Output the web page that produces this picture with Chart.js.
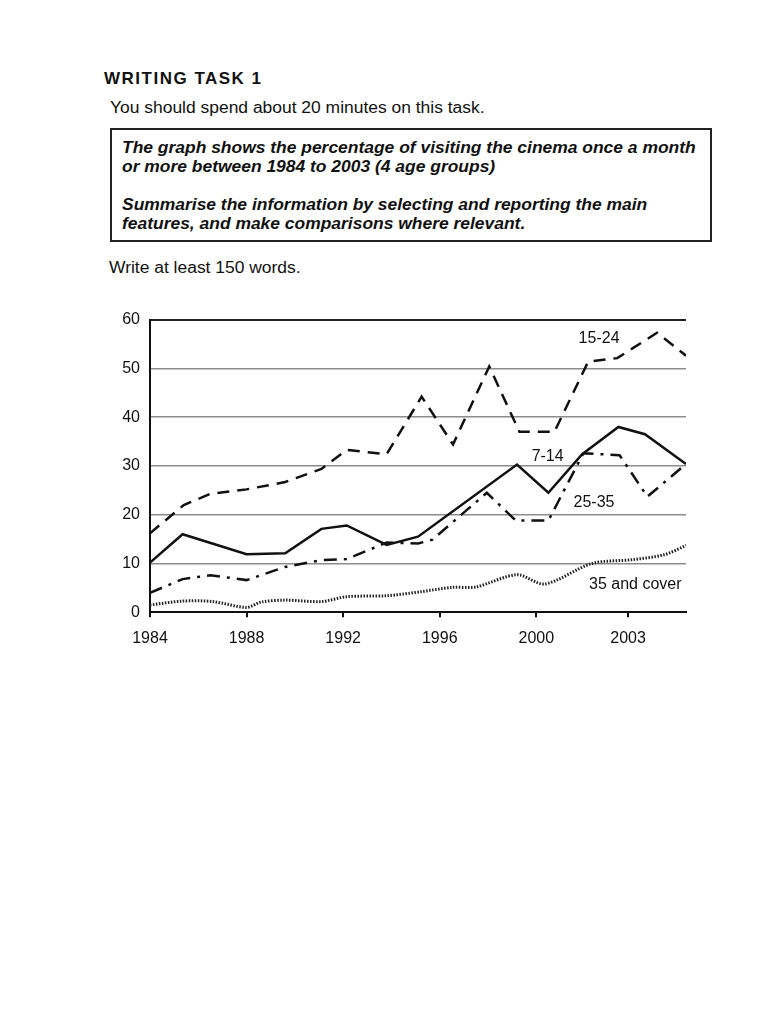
<!DOCTYPE html>
<html>
<head>
<meta charset="utf-8">
<script src="https://cdn.jsdelivr.net/npm/chart.js@4"></script>
<style>
  html, body { margin: 0; padding: 0; background: #fff; }
  body { width: 768px; height: 1024px; position: relative; font-family: "Liberation Sans", Arial, sans-serif; color: #111; }
  .abs { position: absolute; white-space: nowrap; }
  .wide { transform: scaleX(1.09); transform-origin: 0 0; }
  #title { left: 104px; top: 70px; font-size: 17px; line-height: 18px; font-weight: bold; letter-spacing: 1.5px; }
  #intro { left: 110px; top: 100px; font-size: 16px; line-height: 16px; }
  #box { left: 110px; top: 128px; width: 598px; height: 110px; border: 2px solid #222; }
  #box div { position: absolute; left: 10px; font-size: 16px; line-height: 19px; font-weight: bold; font-style: italic; white-space: nowrap; }
  #words { left: 109px; top: 260px; font-size: 16px; line-height: 16px; }
  #chartWrap { position: absolute; left: 100px; top: 300px; width: 610px; height: 360px; }
</style>
</head>
<body>
<div class="abs" id="title">WRITING TASK 1</div>
<div class="abs wide" id="intro">You should spend about 20 minutes on this task.</div>
<div class="abs" id="box">
  <div class="wide" style="top:7.6px">The graph shows the percentage of visiting the cinema once a month</div>
  <div class="wide" style="top:26.6px">or more between 1984 to 2003 (4 age groups)</div>
  <div class="wide" style="top:64.6px">Summarise the information by selecting and reporting the main</div>
  <div class="wide" style="top:83.6px">features, and make comparisons where relevant.</div>
</div>
<div class="abs wide" id="words">Write at least 150 words.</div>
<div id="chartWrap"><canvas id="c"></canvas></div>
<script>
// ---- data ----
const seriesNames = ['15-24', '7-14', '25-35', '35 and cover'];

const years1524 = [1984, 1985.4, 1986.5, 1988, 1989.6, 1991.1, 1992.15, 1993.8, 1995.25, 1996.55, 1998.05, 1999.3, 2000.75, 2002.15, 2003.35, 2005.0, 2006.2];
const values1524 = [16.2, 22.0, 24.3, 25.2, 26.7, 29.4, 33.3, 32.4, 44.2, 34.4, 50.4, 37.0, 37.0, 51.4, 52.1, 57.3, 52.6];

const years714 = [1984, 1985.35, 1988, 1989.6, 1991.1, 1992.15, 1993.8, 1995.1, 1999.2, 2000.5, 2001.9, 2003.4, 2004.5, 2006.2];
const values714 = [10.2, 16.0, 11.9, 12.1, 17.1, 17.8, 13.8, 15.5, 30.3, 24.5, 32.4, 38.0, 36.5, 30.4];

const years2535 = [1984, 1985.35, 1986.5, 1988, 1989.6, 1991.1, 1992.15, 1993.8, 1995.1, 1995.7, 1997.95, 1999.15, 2000.5, 2001.95, 2003.45, 2004.6, 2006.2];
const values2535 = [4.0, 6.8, 7.6, 6.6, 9.3, 10.7, 10.9, 14.3, 14.1, 14.9, 24.5, 18.8, 18.8, 32.6, 32.2, 23.7, 30.4];

const years35 = [1984, 1985.35, 1986.6, 1988, 1988.6, 1989.6, 1991.1, 1992.15, 1993.8, 1995.2, 1996.5, 1997.5, 1999.2, 2000.35, 2002.3, 2004.0, 2005.3, 2006.2];
const values35 = [1.5, 2.3, 2.2, 1.0, 2.1, 2.5, 2.2, 3.2, 3.4, 4.2, 5.1, 5.2, 7.7, 5.8, 10.0, 10.8, 11.8, 13.7];

const xTickValues = [1984, 1988, 1992, 1996, 2000, 2003.8];
const xTickLabels = ['1984', '1988', '1992', '1996', '2000', '2003'];
const yTickValues = [0, 10, 20, 30, 40, 50, 60];

// ---- build chart ----
const toPts = (xs, ys) => xs.map((x, i) => ({ x: x, y: ys[i] }));
const ink = '#111';

const labelPlugin = {
  id: 'seriesLabels',
  afterDatasetsDraw(chart, args, opts) {
    const { ctx, scales } = chart;
    ctx.save();
    ctx.fillStyle = opts.color;
    ctx.font = opts.font;
    ctx.textAlign = 'center';
    ctx.textBaseline = 'middle';
    opts.items.forEach(it => {
      ctx.fillText(it.text, scales.x.getPixelForValue(it.x), scales.y.getPixelForValue(it.y));
    });
    ctx.restore();
  }
};

const tickFont = { family: '"Liberation Sans", Arial, sans-serif', size: 16 };

new Chart(document.getElementById('c'), {
  type: 'line',
  data: {
    datasets: [
      { label: seriesNames[0], data: toPts(years1524, values1524), borderColor: ink, borderWidth: 2.5, borderDash: [12, 8], pointRadius: 0, tension: 0 },
      { label: seriesNames[1], data: toPts(years714, values714), borderColor: ink, borderWidth: 2.5, pointRadius: 0, tension: 0 },
      { label: seriesNames[2], data: toPts(years2535, values2535), borderColor: ink, borderWidth: 2.5, borderDash: [13, 7, 3, 7], pointRadius: 0, tension: 0 },
      { label: seriesNames[3], data: toPts(years35, values35), borderColor: '#222', borderWidth: 3, borderDash: [1.5, 1.5], pointRadius: 0, tension: 0.3 }
    ]
  },
  options: {
    responsive: true,
    maintainAspectRatio: false,
    animation: false,
    layout: { padding: { left: 0, right: 24, top: 19.3, bottom: 0 } },
    plugins: {
      legend: { display: false },
      tooltip: { enabled: false },
      seriesLabels: {
        color: '#111',
        font: '16px "Liberation Sans", Arial, sans-serif',
        items: [
          { text: seriesNames[0], x: 2002.6, y: 56.1 },
          { text: seriesNames[1], x: 2000.47, y: 32.0 },
          { text: seriesNames[2], x: 2002.39, y: 22.5 },
          { text: seriesNames[3], x: 2004.1, y: 5.6 }
        ]
      }
    },
    scales: {
      x: {
        type: 'linear',
        min: 1984,
        max: 2006.2,
        afterBuildTicks: s => { s.ticks = xTickValues.map(v => ({ value: v })); },
        afterFit: s => { s.height = 47.7; },
        ticks: { callback: (v, i) => xTickLabels[i], font: tickFont, color: '#111', padding: 12, maxRotation: 0, autoSkip: false },
        grid: { drawOnChartArea: false, drawTicks: true, tickLength: 5, color: ink, lineWidth: 2 },
        border: { display: true, color: ink, width: 2 }
      },
      y: {
        min: 0,
        max: 60,
        afterBuildTicks: s => { s.ticks = yTickValues.map(v => ({ value: v })); },
        afterFit: s => { s.width = 50; },
        ticks: { callback: v => String(v), font: tickFont, color: '#111', padding: 10 },
        grid: {
          drawTicks: false,
          color: c => c.tick.value === 60 ? '#222' : (c.tick.value === 0 ? 'rgba(0,0,0,0)' : '#8c8c8c'),
          lineWidth: c => c.tick.value === 60 ? 2 : 1.5
        },
        border: { display: true, color: ink, width: 2 }
      }
    }
  },
  plugins: [labelPlugin]
});
</script>
</body>
</html>
